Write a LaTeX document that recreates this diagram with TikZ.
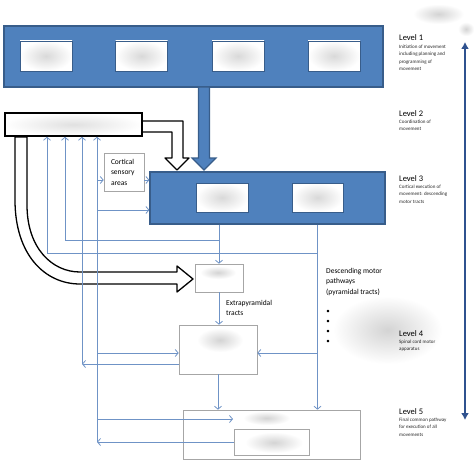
\documentclass[tikz,border=0pt]{standalone}
\usepackage{fontspec}
\setmainfont{Carlito}
\usepackage{tikz}
\usetikzlibrary{arrows.meta,calc}
\definecolor{c1}{HTML}{4F81BD}
\definecolor{c2}{HTML}{385D8A}
\definecolor{c3}{HTML}{6F93C6}
\definecolor{c4}{HTML}{A6A6A6}
\definecolor{c5}{HTML}{2F528F}
\tikzset{
  bluebox/.style={draw=c2, fill=c1, line width=1.2pt, inner sep=0},
  whitebox/.style={draw=c2, line width=0.6pt, inner color=black!15, outer color=white, inner sep=0},
  graybox/.style={draw=c4, fill=white, line width=0.6pt, inner sep=0},
  blackbox/.style={draw=black, line width=1.5pt, inner color=black!12, outer color=white, inner sep=0},
  conn/.style={draw=c3, line width=0.8pt, -{Straight Barb[length=3pt,width=7pt]}},
  fat/.style={draw=black, fill=white, line width=1.3pt, line join=round},
  smudge/.style={inner color=black!17, outer color=white},
  levelaxis/.style={draw=c5, line width=2.4pt, {Latex[length=7pt,width=8pt]}-{Latex[length=7pt,width=8pt]}},
  lvl/.style={anchor=base west, inner sep=0, font=\fontsize{8.5}{9}\selectfont},
  lvldesc/.style={anchor=north west, inner sep=0, align=left, font=\fontsize{5}{7.3}\selectfont, text=black!85},
  note/.style={anchor=north west, inner sep=0, align=left, font=\fontsize{7.5}{10.5}\selectfont}
}
\begin{document}
\begin{tikzpicture}[x=1pt, y=-1pt]
  \useasboundingbox (0,0) rectangle (474,460);

  \node[bluebox, minimum width=379pt, minimum height=61pt] (plan) at (193.5,56.5) {};
  \foreach \n/\x in {1/46,2/141.5,3/238,4/334}
    \node[whitebox, minimum width=52pt, minimum height=30pt] (plan\n) at (\x,56) {};

  \draw[bluebox] (198.5,87) -- (209.5,87) -- (209.5,158) -- (216,158) -- (204,170) -- (192,158) -- (198.5,158) -- cycle;
  \draw[fat] (142,121) -- (183,121) -- (183,158) -- (189,158) -- (177,170) -- (165,158) -- (172,158) -- (172,132) -- (142,132);
  \draw[fat] (15,137) -- (15,200) .. controls (15,255) and (45,284) .. (80,284) -- (177,284) -- (177,292) -- (193,279)
    -- (177,266) -- (177,272) -- (80,272) .. controls (52,272) and (27,248) .. (27,205) -- (27,137) -- cycle;

  \node[blackbox, minimum width=137pt, minimum height=23pt] (cereb) at (73.5,124.5) {};
  \node[graybox, note, anchor=center, text width=26pt, inner xsep=7pt, minimum height=38pt] (sens) at (124,172) {Cortical\\sensory\\areas};

  \node[bluebox, minimum width=235pt, minimum height=52pt] (exec) at (267.5,198) {};
  \node[whitebox, minimum width=52pt, minimum height=29pt] (exec1) at (222,197.5) {};
  \node[whitebox, minimum width=51pt, minimum height=29pt] (exec2) at (317.5,197.5) {};

  \node[graybox, minimum width=48pt, minimum height=28pt] (bg) at (219,278) {};
  \node[graybox, minimum width=78pt, minimum height=49pt] (rf) at (218,349.5) {};
  \node[graybox, minimum width=177pt, minimum height=49pt] (fcp) at (271.5,434.5) {};
  \node[graybox, minimum width=75pt, minimum height=26pt] (mn) at (271.5,442) {};
  \shade[smudge] (200,266) rectangle (236,279);
  \shade[smudge] (197,328) rectangle (243,352);
  \shade[smudge] (243,411) rectangle (290,425);
  \shade[smudge] (245,432) rectangle (303,453);
  \shade[smudge] (333,296) rectangle (442,364);
  \shade[smudge] (413,4) rectangle (464,24);
  \shade[smudge] (458,22) rectangle (474,36);

  \coordinate (up1) at (47,0);
  \coordinate (up2) at (65,0);
  \coordinate (up3) at (82,0);
  \coordinate (up4) at (97,0);
  \coordinate (pyr) at (exec2.south |- exec.south);
  \coordinate (fcpin) at (233,419);

  \draw[conn] (pyr |- 0,253) -| (up1 |- cereb.south);
  \draw[conn] (bg.north |- 0,240) -| (up2 |- cereb.south);
  \draw[conn] (rf.west |- 0,364) -- (up3 |- 0,364);
  \draw[conn] (up3 |- 0,364) -- (up3 |- cereb.south);
  \draw[conn] (mn.west) -- (up4 |- mn.west);
  \draw[conn] (up4 |- mn.west) -- (up4 |- cereb.south);
  \draw[conn] (up4 |- 0,180) -- (sens.west |- 0,180);
  \draw[conn] (sens.east |- 0,180) -- (exec.west |- 0,180);
  \draw[conn] (up4 |- 0,210) -- (exec.west |- 0,210);
  \draw[conn] (up4 |- 0,353) -- (rf.west |- 0,353);
  \draw[conn] (up4 |- fcpin) -- (fcpin);
  \draw[conn] (pyr |- 0,353) -- (rf.east |- 0,353);
  \draw[conn] (pyr) -- (pyr |- fcp.north);
  \draw[conn] (bg.north |- exec.south) -- (bg.north);
  \draw[conn] (bg.south) -- (bg.south |- rf.north);
  \draw[conn] (rf.south) -- (rf.south |- fcp.north);

  \node[note] (extxt) at (226,300) {Extrapyramidal\\tracts};
  \node[note] (pyrtxt) at (326,268) {Descending motor\\pathways\\(pyramidal tracts)};
  \foreach \i in {0,...,3}
    \node[inner sep=0, font=\fontsize{7}{7}\selectfont] (dot\i) at (328,{312+10*\i}) {\textbullet};

  \draw[levelaxis] (465,420) coordinate (axbot) -- (465,42) coordinate (axtop);

  \node[lvl] (lv1) at (399,41) {Level 1};
  \node[lvldesc] (lv1d) at (399,45) {Initiation of movement\\including planning and\\programming of\\movement};
  \node[lvl] (lv2) at (399,116) {Level 2};
  \node[lvldesc] (lv2d) at (399,120) {Coordination of\\movement};
  \node[lvl] (lv3) at (399,181) {Level 3};
  \node[lvldesc] (lv3d) at (399,185) {Cortical execution of\\movement: descending\\motor tracts};
  \node[lvl] (lv4) at (399,336) {Level 4};
  \node[lvldesc] (lv4d) at (399,340) {Spinal cord motor\\apparatus};
  \node[lvl] (lv5) at (399,414) {Level 5};
  \node[lvldesc] (lv5d) at (399,418) {Final common pathway\\for execution of all\\movements};
\end{tikzpicture}
\end{document}
